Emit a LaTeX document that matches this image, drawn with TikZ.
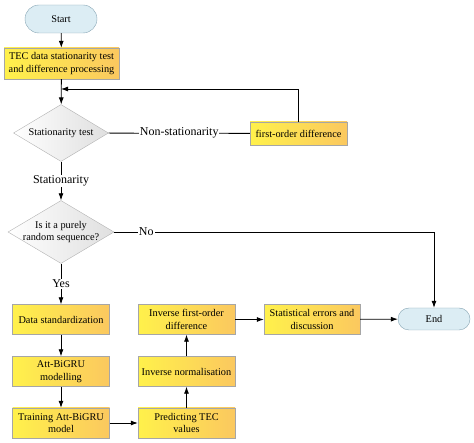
\documentclass[tikz,border=0pt]{standalone}
\usepackage{fontspec}
\setmainfont{Liberation Serif}
\usetikzlibrary{shapes.geometric,shapes.misc,arrows.meta}
\definecolor{boxyellow}{RGB}{255,241,75}
\definecolor{boxorange}{RGB}{251,200,95}
\definecolor{termfill}{RGB}{220,237,244}
\definecolor{termline}{RGB}{135,165,180}
\begin{document}
\begin{tikzpicture}
        [x=1pt,y=-1pt,
         process/.style={draw=gray!70,left color=boxyellow,right color=boxorange,
           minimum width=97pt,minimum height=30pt,inner sep=1pt,align=center,
           font=\fontsize{10.3}{12.5}\selectfont},
         decision/.style={diamond,draw=gray!60,left color=white,right color=gray!25,
           minimum width=95pt,minimum height=57pt,inner sep=0pt},
         terminal/.style={rounded rectangle,draw=termline,fill=termfill,
           minimum width=74pt,inner sep=1pt,font=\fontsize{10.3}{12.5}\selectfont},
         intext/.style={align=center,inner sep=0pt,font=\fontsize{10.3}{12.5}\selectfont},
         flow/.style={-{Latex[length=7pt,width=5pt]},line width=0.8pt},
         tag/.style={fill=white,inner sep=1pt,font=\fontsize{12}{14}\selectfont}]
        \useasboundingbox (0,0) rectangle (474,443);

        % left column
        \node[terminal,minimum height=28pt] (start) at (61,19) {Start};
        \node[process,minimum width=115pt,minimum height=31pt] (tec) at (61.5,63.5)
          {TEC data stationarity test\\and difference processing};
        \coordinate (join) at (61,89);
        \node[decision] (test) at (61,133) {};
        \node[intext] (testtext) at (test) {Stationarity test};
        \node[process,minimum height=23pt] (fd) at (298.5,133.5) {first-order difference};
        \node[decision,minimum width=106pt,minimum height=63pt] (rand) at (61,232) {};
        \node[intext] (randtext) at (rand) {Is it a purely\\random sequence?};
        \node[process] (std) at (61,319.5) {Data standardization};
        \node[process] (model) at (61,371.5) {Att-BiGRU\\modelling};
        \node[process] (train) at (61,423) {Training Att-BiGRU\\model};

        % right part
        \node[process] (pred) at (186.5,423) {Predicting TEC\\values};
        \node[process] (norm) at (186.5,371.5) {Inverse normalisation};
        \node[process] (invdiff) at (186.5,319.5) {Inverse first-order\\difference};
        \node[process,minimum width=96pt] (stats) at (312,319.5) {Statistical errors and\\discussion};
        \node[terminal,minimum height=22pt] (end) at (434,319) {End};

        \draw[flow] (start) -- (tec);
        \draw[flow] (tec) -- (test);
        \draw[flow] (fd.north) |- (join);
        \draw[line width=0.8pt] (test) -- node[tag] {Non-stationarity} (fd);
        \draw[flow] (test) -- node[tag] {Stationarity} (rand);
        \draw[flow] (rand.east) -| node[tag,pos=0.05] {No} (end.north);
        \draw[flow] (rand) -- node[tag] {Yes} (std);
        \draw[flow] (std) -- (model);
        \draw[flow] (model) -- (train);
        \draw[flow] (train) -- (pred);
        \draw[flow] (pred) -- (norm);
        \draw[flow] (norm) -- (invdiff);
        \draw[flow] (invdiff) -- (stats);
        \draw[flow] (stats) -- (end);
      \end{tikzpicture}
\end{document}
